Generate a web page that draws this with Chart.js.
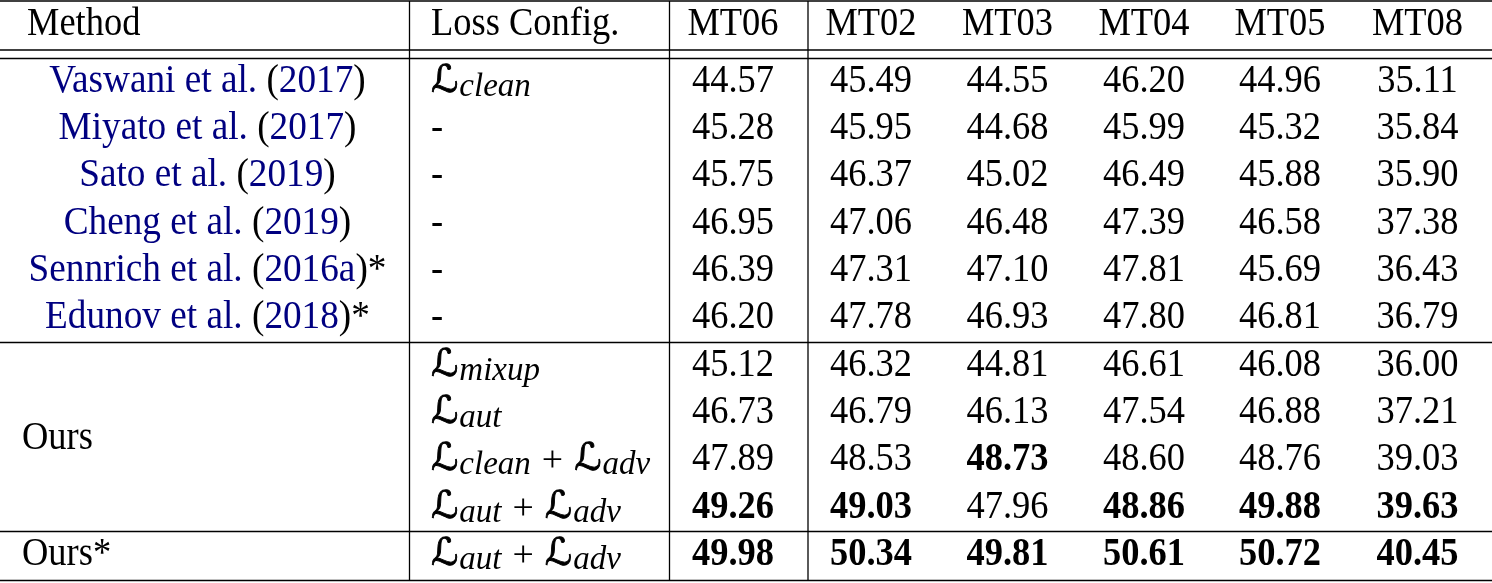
<!DOCTYPE html>
<html>
<head>
<meta charset="utf-8">
<script src="https://cdn.jsdelivr.net/npm/chart.js@4.4.1/dist/chart.umd.min.js"></script>
<style>
  html, body { margin: 0; padding: 0; background: #ffffff; }
  #wrap { position: relative; width: 1492px; height: 583px; }
</style>
</head>
<body>
<div id="wrap"><canvas id="c"></canvas></div>
<script>
// ---------------- DATA ----------------
const metricColumns = ["MT06", "MT02", "MT03", "MT04", "MT05", "MT08"];
const headerMethod = "Method";
const headerLoss = "Loss Config.";

const methodNames = ["Vaswani et al.", "Miyato et al.", "Sato et al.", "Cheng et al.", "Sennrich et al.", "Edunov et al.", "Ours", "Ours*"];
const methodYears = ["2017", "2017", "2019", "2019", "2016a", "2018", null, null];
const methodStars = ["", "", "", "", "*", "*", "", ""];
const methodRowSpans = [1, 1, 1, 1, 1, 1, 4, 1];

const lossConfigs = ["L_clean", "-", "-", "-", "-", "-", "L_mixup", "L_aut", "L_clean + L_adv", "L_aut + L_adv", "L_aut + L_adv"];

const mt06 = [44.57, 45.28, 45.75, 46.95, 46.39, 46.20, 45.12, 46.73, 47.89, 49.26, 49.98];
const mt02 = [45.49, 45.95, 46.37, 47.06, 47.31, 47.78, 46.32, 46.79, 48.53, 49.03, 50.34];
const mt03 = [44.55, 44.68, 45.02, 46.48, 47.10, 46.93, 44.81, 46.13, 48.73, 47.96, 49.81];
const mt04 = [46.20, 45.99, 46.49, 47.39, 47.81, 47.80, 46.61, 47.54, 48.60, 48.86, 50.61];
const mt05 = [44.96, 45.32, 45.88, 46.58, 45.69, 46.81, 46.08, 46.88, 48.76, 49.88, 50.72];
const mt08 = [35.11, 35.84, 35.90, 37.38, 36.43, 36.79, 36.00, 37.21, 39.03, 39.63, 40.45];
const metricValues = [mt06, mt02, mt03, mt04, mt05, mt08];

// row indexes shown in bold, per metric column
const boldRows = [[9, 10], [9, 10], [8, 10], [9, 10], [9, 10], [9, 10]];

// ---------------- LAYOUT ----------------
const W = 1492, H = 583;
const SX = 0.935;                      // horizontal glyph squash
const SX_NAME = 0.955;
const FS = 39;                         // main font size
const SERIF = '"Liberation Serif", "Times New Roman", serif';
const MATHL = '"DejaVu Sans", "DejaVu Serif", sans-serif';
const SUBF = 'italic 33px "Liberation Serif", serif';
const BLUE = "#000080";

const metricCenters = [733, 871, 1007.5, 1144, 1280, 1417.5];
const methodCenter = 207.5, methodLeft = 22, lossLeft = 431;
const vRules = [409.5, 669.5, 808];
const groupTops = [58.5, 342.5, 531.5];
const groupSizes = [6, 4, 1];
const rowH = 47.3, baseOff = 33.3;
const headerBase = 35;
const singleRules = [1, 50, 58.5, 342.5, 531.5, 580.5];

function rowTop(i) {
  let start = 0;
  for (let g = 0; g < groupSizes.length; g++) {
    if (i < start + groupSizes[g]) return groupTops[g] + (i - start) * rowH;
    start += groupSizes[g];
  }
  return groupTops[groupTops.length - 1];
}
function rowBase(i) { return rowTop(i) + baseOff; }

// ---------------- DATASETS ----------------
const datasets = [];
metricColumns.forEach((name, j) => {
  datasets.push({
    label: name,
    kind: "metric",
    col: j,
    data: metricValues[j].map((v, i) => ({ x: metricCenters[j], y: rowBase(i), v: v, row: i })),
    pointRadius: 0
  });
});
(function () {
  let r = 0;
  const pts = [];
  methodNames.forEach((n, k) => {
    const span = methodRowSpans[k];
    let y;
    if (span === 1) y = rowBase(r);
    else y = (rowTop(r) + rowTop(r + span - 1) + rowH) / 2 + 12;
    pts.push({ x: methodYears[k] ? methodCenter : methodLeft, y: y, k: k });
    r += span;
  });
  datasets.push({ label: headerMethod, kind: "method", data: pts, pointRadius: 0 });
})();
datasets.push({
  label: headerLoss, kind: "loss",
  data: lossConfigs.map((s, i) => ({ x: lossLeft, y: rowBase(i), s: s })),
  pointRadius: 0
});

// ---------------- DRAW HELPERS ----------------
function drawRich(ctx, segs, x, y, align, sxAll) {
  const sxBase = sxAll || SX;
  let total = 0;
  segs.forEach(s => {
    const sx = s.sx || sxBase;
    if (s.gap) { s.w = s.gap; }
    else { ctx.font = s.font; s.w = ctx.measureText(s.text).width * sx; }
    total += s.w;
  });
  let cx = align === "center" ? x - total / 2 : x;
  ctx.textAlign = "left";
  ctx.textBaseline = "alphabetic";
  segs.forEach(s => {
    const sx = s.sx || sxBase;
    if (!s.gap) {
      ctx.save();
      ctx.translate(cx, y + (s.dy || 0));
      ctx.scale(sx, 1);
      ctx.font = s.font;
      ctx.fillStyle = s.color || "#000";
      ctx.fillText(s.text, 0, 0);
      if (s.stroke) {
        ctx.lineWidth = s.stroke;
        ctx.strokeStyle = s.color || "#000";
        ctx.strokeText(s.text, 0, 0);
      }
      ctx.restore();
    }
    cx += s.w;
  });
}
function mainFont(bold) { return (bold ? "bold " : "") + FS + "px " + SERIF; }

function lossSegs(s) {
  if (s === "-") return [{ text: "-", font: mainFont(false) }];
  const parts = s.split(" + ");
  const segs = [];
  parts.forEach((p, idx) => {
    if (idx > 0) {
      segs.push({ gap: 11 });
      segs.push({ text: "+", font: "36px " + SERIF, sx: 1.05, dy: 1 });
      segs.push({ gap: 11 });
    }
    const sub = p.split("_")[1];
    segs.push({ text: "\u2112", font: "38px " + MATHL, sx: 1.0, stroke: 0.9 });
    segs.push({ gap: 1 });
    segs.push({ text: sub, font: SUBF, sx: 1.0, dy: 4 });
  });
  return segs;
}

const tablePlugin = {
  id: "tableDraw",
  beforeDraw(chart) {
    const ctx = chart.ctx;
    ctx.save();
    ctx.fillStyle = "#fff";
    ctx.fillRect(0, 0, chart.width, chart.height);
    ctx.restore();
  },
  afterDatasetsDraw(chart) {
    const ctx = chart.ctx;
    const xs = chart.scales.x, ys = chart.scales.y;
    ctx.save();
    ctx.strokeStyle = "#000";
    ctx.lineWidth = 1.3;
    singleRules.forEach(v => {
      const py = ys.getPixelForValue(v);
      ctx.beginPath();
      ctx.moveTo(xs.getPixelForValue(0), py);
      ctx.lineTo(xs.getPixelForValue(W), py);
      ctx.stroke();
    });
    vRules.forEach(v => {
      const px = xs.getPixelForValue(v);
      ctx.beginPath();
      ctx.moveTo(px, ys.getPixelForValue(singleRules[0]));
      ctx.lineTo(px, ys.getPixelForValue(singleRules[singleRules.length - 1]));
      ctx.stroke();
    });
    ctx.restore();

    ctx.save();
    const hb = ys.getPixelForValue(headerBase);
    drawRich(ctx, [{ text: headerMethod, font: mainFont(false) }], xs.getPixelForValue(27), hb, "left");
    drawRich(ctx, [{ text: headerLoss, font: mainFont(false) }], xs.getPixelForValue(lossLeft), hb, "left");
    metricColumns.forEach((n, j) => {
      drawRich(ctx, [{ text: n, font: mainFont(false) }], xs.getPixelForValue(metricCenters[j]), hb, "center");
    });

    chart.data.datasets.forEach((ds, di) => {
      const meta = chart.getDatasetMeta(di);
      meta.data.forEach((el, i) => {
        const raw = ds.data[i];
        if (ds.kind === "metric") {
          const bold = boldRows[ds.col].includes(raw.row);
          drawRich(ctx, [{ text: raw.v.toFixed(2), font: mainFont(bold) }], el.x, el.y, "center");
        } else if (ds.kind === "method") {
          const k = raw.k;
          if (methodYears[k]) {
            drawRich(ctx, [
              { text: methodNames[k] + " ", font: mainFont(false), color: BLUE },
              { text: "(", font: mainFont(false) },
              { text: methodYears[k], font: mainFont(false), color: BLUE },
              { text: ")" + methodStars[k], font: mainFont(false) }
            ], el.x, el.y, "center", SX_NAME);
          } else {
            drawRich(ctx, [{ text: methodNames[k], font: mainFont(false) }], el.x, el.y, "left");
          }
        } else if (ds.kind === "loss") {
          drawRich(ctx, lossSegs(raw.s), el.x, el.y, "left");
        }
      });
    });
    ctx.restore();
  }
};

new Chart(document.getElementById("c"), {
  type: "scatter",
  data: { datasets: datasets },
  options: {
    responsive: true,
    maintainAspectRatio: false,
    animation: false,
    events: [],
    layout: { padding: 0 },
    plugins: { legend: { display: false }, tooltip: { enabled: false } },
    scales: {
      x: { type: "linear", min: 0, max: W, display: false },
      y: { type: "linear", min: 0, max: H, reverse: true, display: false }
    }
  },
  plugins: [tablePlugin]
});
</script>
</body>
</html>
